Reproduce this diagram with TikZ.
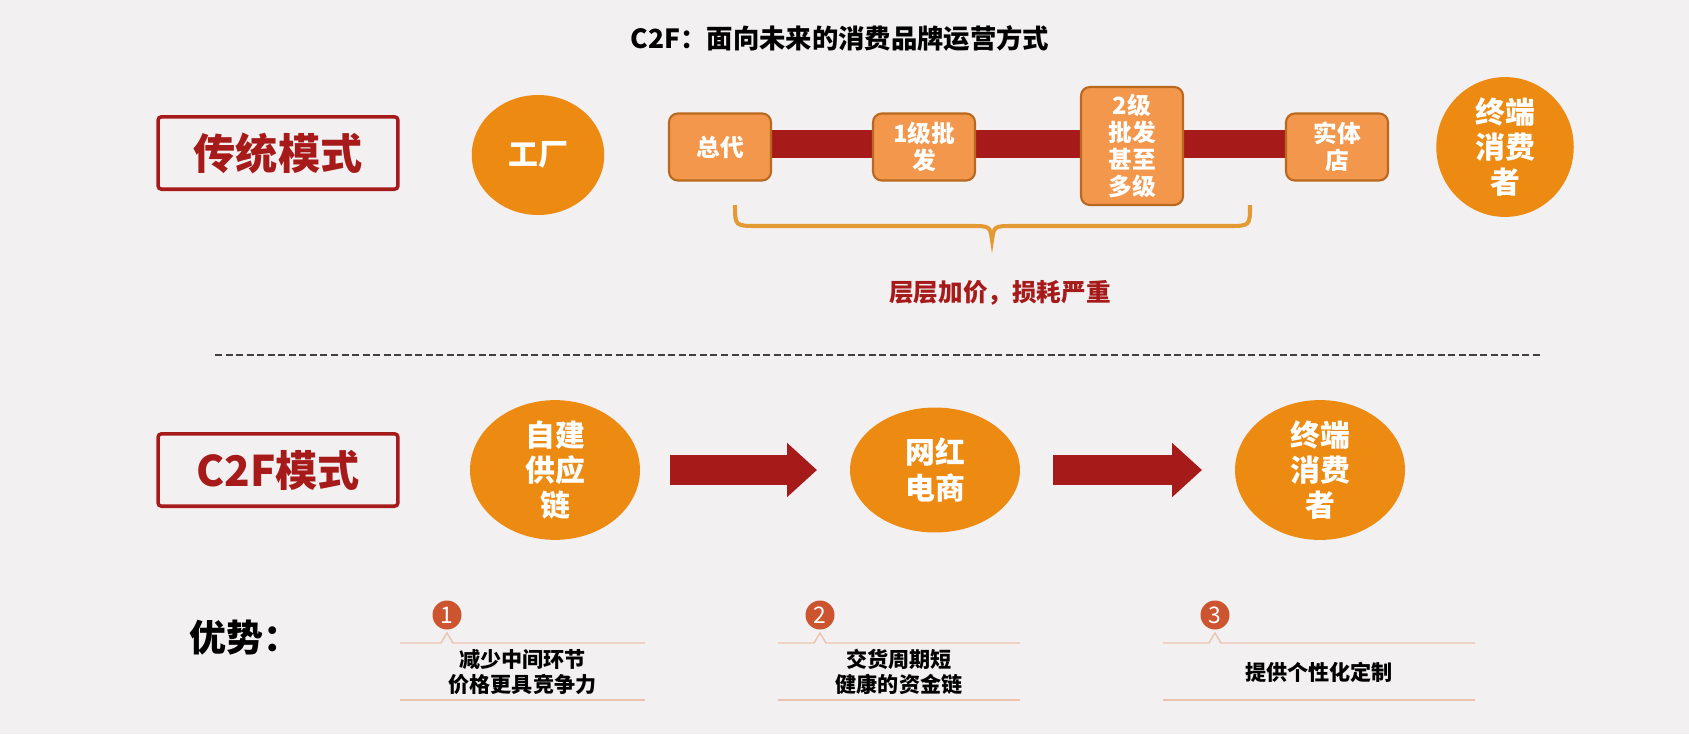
\documentclass[tikz,border=0pt]{standalone}
\usepackage{fontspec}
\setmainfont{Noto Sans CJK SC}
\usetikzlibrary{shapes.geometric,arrows.meta}
\definecolor{bg}{HTML}{F2F0F1}
\definecolor{dred}{HTML}{A61A1A}
\definecolor{org}{HTML}{EC8A12}
\definecolor{lorg}{HTML}{F2974C}
\definecolor{borg}{HTML}{B8691F}
\definecolor{brc}{HTML}{E39A35}
\definecolor{numc}{HTML}{CC5530}
\definecolor{linec}{HTML}{EBC2AE}
\tikzset{
 modebox/.style={draw=dred,line width=2pt,rounded corners=2pt,minimum width=4.8cm,minimum height=1.45cm,text=dred,font=\fontsize{24}{28}\selectfont\bfseries},
 blob/.style={ellipse,fill=org,text=white,align=center,font=\fontsize{17}{20}\selectfont\bfseries,inner sep=0pt},
 stage/.style={draw=borg,line width=1.2pt,fill=lorg,rounded corners=5pt,text=white,align=center,font=\fontsize{13.5}{15.5}\selectfont\bfseries,minimum width=2.04cm,minimum height=1.34cm,inner sep=1pt},
 num/.style={circle,fill=numc,text=white,minimum size=0.58cm,inner sep=0pt,font=\fontsize{13}{13}\selectfont},
 adv/.style={align=center,font=\fontsize{12}{14}\selectfont\bfseries},
 bigarrow/.style={-{Triangle[length=0.6cm,width=1.05cm]},line width=0.6cm,dred}
}
\begin{document}
\begin{tikzpicture}[x=0.02cm,y=-0.02cm]
\fill[bg] (0,0) rectangle (1689,734);
\node[font=\fontsize{15}{18}\selectfont\bfseries] (title) at (840,38) {C2F：面向未来的消费品牌运营方式};
\node[modebox] (trad) at (278,153) {传统模式};
\node[blob,minimum width=2.65cm,minimum height=2.4cm] (fac) at (538,155) {工厂};
\coordinate (bl) at (700,144); \coordinate (br) at (1300,144);
\draw[dred,line width=0.56cm] (bl) -- (br);
\node[stage] (s1) at (720,147) {总代};
\node[stage] (s2) at (924,147) {1级批\\发};
\node[stage,minimum height=2.36cm] (s3) at (1132,146) {2级\\批发\\甚至\\多级};
\node[stage] (s4) at (1337,147) {实体\\店};
\node[blob,minimum width=2.75cm,minimum height=2.3cm] (c1) at (1505,147) {终端\\消费\\者};
\coordinate (b1) at (735,205); \coordinate (b2) at (1250,205); \coordinate (bm) at (992,240);
\draw[brc,line width=2.3pt] (b1) .. controls (735,226) .. (758,226) -- (970,226) .. controls (990,226) .. (bm) .. controls (994,226) .. (1014,226) -- (1228,226) .. controls (1250,226) .. (b2);
\node[text=dred,font=\fontsize{14}{16}\selectfont\bfseries] (loss) at (1000,293) {层层加价，损耗严重};
\coordinate (d1) at (215,355); \coordinate (d2) at (1543,355);
\draw[black!75,dash pattern=on 4pt off 2pt,line width=0.8pt] (d1) -- (d2);
\node[modebox] (c2f) at (278,470) {C2F模式};
\node[blob,minimum width=3.4cm,minimum height=2.6cm] (n1) at (555,470) {自建\\供应\\链};
\node[blob,minimum width=3.4cm,minimum height=2.5cm] (n2) at (935,470) {网红\\电商};
\node[blob,minimum width=3.4cm,minimum height=2.5cm] (n3) at (1320,470) {终端\\消费\\者};
\coordinate (a1s) at (670,470); \coordinate (a1e) at (817,470);
\coordinate (a2s) at (1053,470); \coordinate (a2e) at (1202,470);
\draw[bigarrow] (a1s) -- (a1e);
\draw[bigarrow] (a2s) -- (a2e);
\node[font=\fontsize{21}{24}\selectfont\bfseries] (adv) at (245,638) {优势：};
\foreach \i/\cx/\l/\r/\txt in {1/447/400/645/{减少中间环节\\价格更具竞争力},2/820/778/1020/{交货周期短\\健康的资金链},3/1215/1163/1475/{提供个性化定制}}{
  \node[num] (k\i) at (\cx,615) {\i};
  \coordinate (t\i l) at (\l,643); \coordinate (t\i r) at (\r,643);
  \coordinate (u\i l) at (\l,700); \coordinate (u\i r) at (\r,700);
  \draw[linec,line width=0.8pt] (t\i l) -- (\cx-6,643) -- (\cx,633) -- (\cx+6,643) -- (t\i r);
  \draw[linec,line width=0.8pt] (u\i l) -- (u\i r);
  \node[adv] (x\i) at ({(\l+\r)/2},672) {\txt};
}
\end{tikzpicture}
\end{document}
